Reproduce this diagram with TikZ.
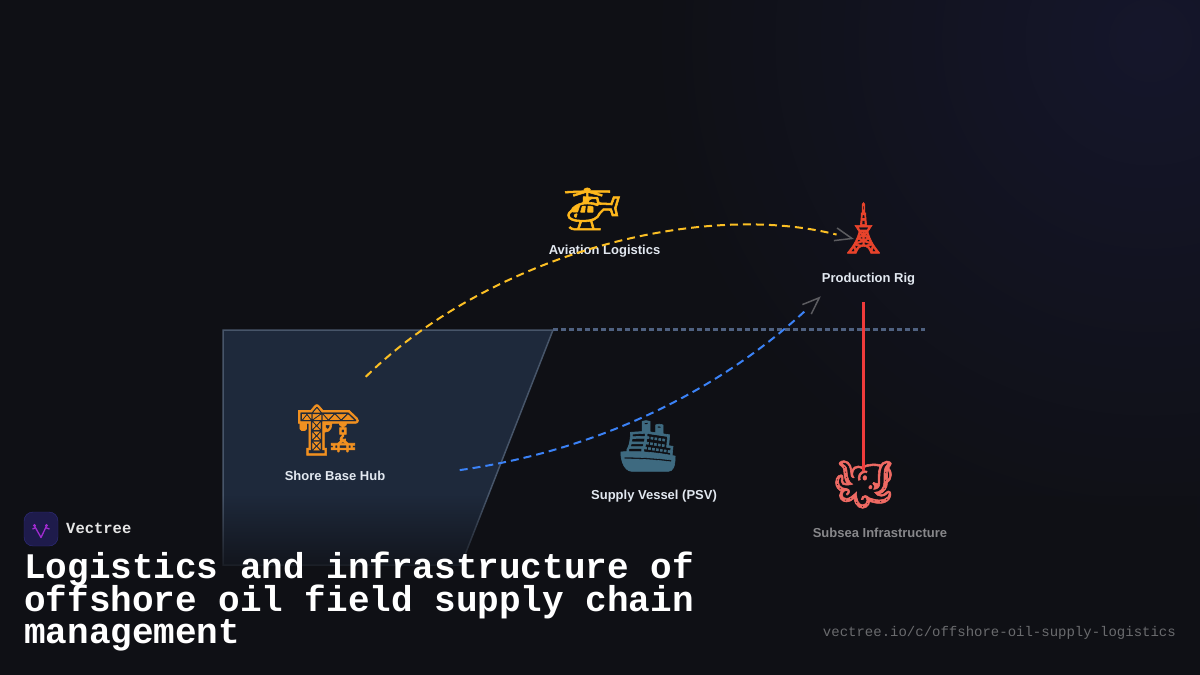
\documentclass[tikz,border=0pt]{standalone}
\usepackage{fontspec}
\setmainfont{Liberation Sans}
\setmonofont{Liberation Mono}
\newfontfamily\emojifont[FakeBold=1.2]{Noto Emoji}
\usetikzlibrary{arrows.meta,fadings}
\definecolor{bgdark}{HTML}{0F1015}
\definecolor{bglight}{HTML}{15162B}
\definecolor{panelfill}{HTML}{1E293B}
\definecolor{paneledge}{HTML}{475569}
\definecolor{waterline}{HTML}{4F6180}
\definecolor{labeltext}{HTML}{E2E8F0}
\definecolor{airline}{HTML}{FBBF24}
\definecolor{sealine}{HTML}{3B82F6}
\definecolor{riserline}{HTML}{EF3B3B}
\definecolor{logofill}{HTML}{1E1B4B}
\definecolor{logoedge}{HTML}{312E81}
\definecolor{logomark}{HTML}{A02BD0}
\tikzfading[name=fade low, top color=transparent!100, bottom color=transparent!20]
\newcommand{\tightlines}{\lineskiplimit=-50pt\relax}
\begin{document}
\begin{tikzpicture}[
  x=1pt, y=-1pt,
  icon/.style={inner sep=0pt, font=\emojifont\fontsize{50}{50}\selectfont},
  lbl/.style={inner sep=0pt, font=\bfseries\fontsize{13}{15}\selectfont, text=labeltext},
  route/.style={line width=2pt, dash pattern=on 8pt off 5pt, shorten >=18pt},
  tiponly/.style={line width=1.5pt, dash pattern=on 0pt off 3000pt,
                  -{Straight Barb[length=17pt, width=13pt, line width=1.5pt, color=white!32!bgdark]}},
]
  \useasboundingbox (0,0) rectangle (1200,675);
  \clip (0,0) rectangle (1200,675);
  \fill[bgdark] (0,0) rectangle (1200,675);
  \shade[inner color=bglight, outer color=bgdark] (1150,40) circle (500pt);

  % shore block and waterline
  \filldraw[fill=panelfill, draw=paneledge, line width=1.5pt]
    (223,330) -- (553,330) -- (461,565) -- (223,565) -- cycle;
  \fill[bgdark, path fading=fade low] (0,495) rectangle (1200,567);
  \coordinate (seaw) at (553,329.5);
  \coordinate (seae) at (925,329.5);
  \draw[waterline, line width=2.5pt, dash pattern=on 5pt off 3pt] (seaw) -- (seae);

  % invisible boxes are sized so that their borders carry the connector ends
  \node[icon, text={rgb,255:red,241;green,144;blue,32}, minimum width=262pt, minimum height=106pt] (shore) at (328.5,430) {🏗};
  \node[icon, text={rgb,255:red,255;green,184;blue,28}, font=\emojifont\fontsize{46}{46}\selectfont] (heli) at (592.5,209) {🚁};
  \node[icon, text={rgb,255:red,232;green,67;blue,43}, minimum width=85pt, minimum height=148pt] (rig) at (863.5,228) {🗼};
  \node[icon, text={rgb,255:red,62;green,106;blue,128}] (vessel) at (648,446) {🚢};
  \node[icon, text={rgb,255:red,239;green,106;blue,99}, font=\emojifont\fontsize{47}{47}\selectfont] (octo) at (863.5,484.5) {🐙};
  \coordinate (rigtop) at (854,239);

  \node[lbl] (helilbl) at (604.5,251.5) {Aviation Logistics};
  \node[lbl] (riglbl) at (868.5,279.5) {Production Rig};
  \node[lbl] (shorelbl) at (335,475.5) {Shore Base Hub};
  \node[lbl] (vessellbl) at (654,496.5) {Supply Vessel (PSV)};
  \node[lbl, text=white!50!bgdark] (octolbl) at (880,532.5) {Subsea Infrastructure};

  \draw[route, draw=airline]
    (shore.55.1) .. controls (490,255) and (700,200) .. (rigtop);
  \draw[route, draw=sealine]
    (shore.-17.4) .. controls (600,450) and (720,390) .. (rig.238.4);
  \draw[tiponly] (shore.55.1) .. controls (490,255) and (700,200) .. (rigtop);
  \draw[tiponly] (shore.-17.4) .. controls (600,450) and (720,390) .. (rig.238.4);
  \draw[riserline, line width=3pt, shorten >=14pt] (rig.south) -- (octo.center);

  % brand and title
  \node[draw=logoedge, fill=logofill, rounded corners=9pt, minimum size=34pt, inner sep=0pt] (logo) at (41,529) {};
  \draw[logomark, line width=1.3pt, line join=round]
    (34.5,526) -- (41,537.5) -- (46.5,526) (32.5,529) -- (36,527.5) (49.5,529) -- (45,527.5);
  \fill[logomark] (34.5,525.5) circle (1.7pt) (46.5,525.5) circle (1.7pt);
  \node[anchor=west, inner sep=0pt, text=white!90!black, font=\ttfamily\bfseries\fontsize{15.5}{18}\selectfont]
    (brand) at (66,528.5) {Vectree};
  \node[anchor=north west, inner sep=0pt, align=left, text=white,
        font=\ttfamily\bfseries\fontsize{36}{32.5}\selectfont\tightlines]
    (title) at (24,552) {Logistics and infrastructure of\\offshore oil field supply chain\\management};
  \node[anchor=east, inner sep=0pt, text=white!38!bgdark, font=\ttfamily\fontsize{14}{16}\selectfont]
    (url) at (1176,633) {vectree.io/c/offshore-oil-supply-logistics};
\end{tikzpicture}
\end{document}
